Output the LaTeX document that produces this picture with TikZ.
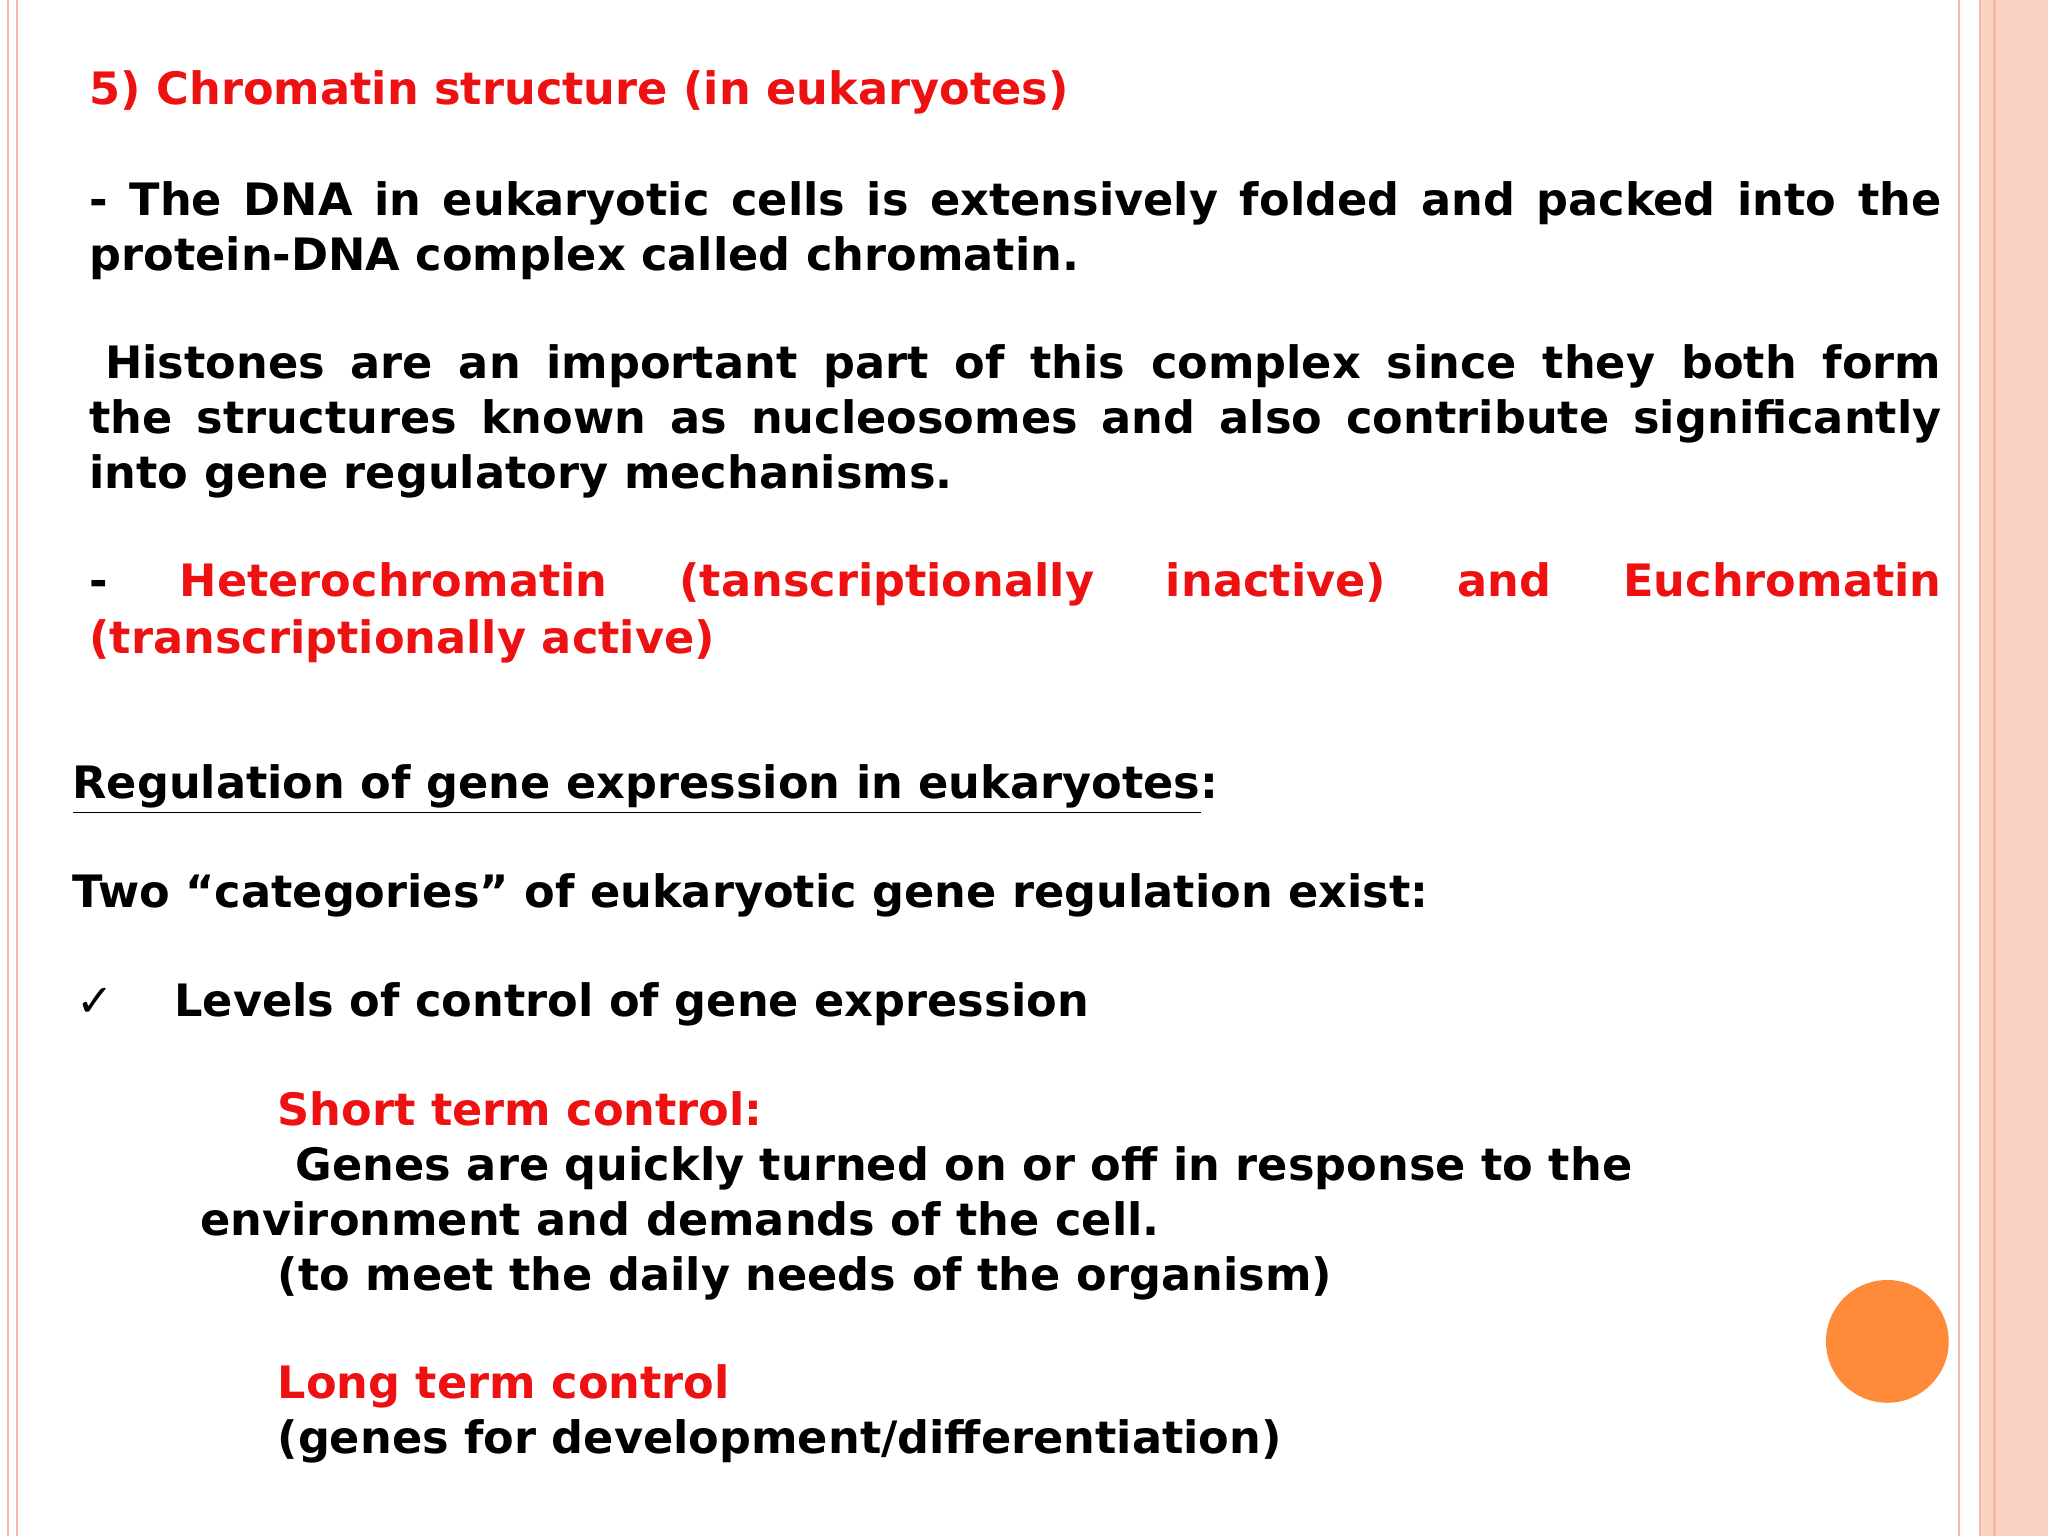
\documentclass[tikz,border=0pt]{standalone}
\usepackage{fontspec}
\setmainfont{DejaVu Sans}
\definecolor{slidered}{HTML}{EE1111}
\definecolor{framepink}{HTML}{F6B9A6}
\definecolor{bandpink}{HTML}{FBD3C2}
\definecolor{dotorange}{HTML}{FF8B3A}
\newcommand{\bodyfont}{\fontsize{12.7}{15.6}\selectfont\bfseries}
\newcommand{\jline}[1]{\makebox[18.52cm][s]{#1}}
\tikzset{
  txt/.style={anchor=base west, inner sep=0pt, font=\bodyfont},
  redtxt/.style={txt, text=slidered},
  frame/.style={draw=framepink, line width=0.6pt}
}
\begin{document}
\begin{tikzpicture}[x=0.01306cm, y=-0.01306cm]
  \useasboundingbox[fill=white] (0,0) rectangle (1568,1176);
  % slide frame
  \draw[frame] (6,0) -- (6,1176);
  \draw[frame] (13,0) -- (13,1176);
  \draw[frame] (1500,0) -- (1500,1176);
  \fill[bandpink] (1516,0) rectangle (1568,1176);
  \draw[frame] (1516,0) -- (1516,1176);
  \draw[frame] (1527,0) -- (1527,1176);
  \fill[dotorange] (1445,1027) circle (47);
  % chromatin text
  \node[redtxt] (title) at (68,80) {5) Chromatin structure (in eukaryotes)};
  \node[txt] (dnaA) at (68,165) {\jline{- The DNA in eukaryotic cells is extensively folded and packed into the}};
  \node[txt] (dnaB) at (68,207) {protein-DNA complex called chromatin.};
  \node[txt] (hisA) at (80,290) {\makebox[18.36cm][s]{Histones are an important part of this complex since they both form}};
  \node[txt] (hisB) at (68,332) {\jline{the structures known as nucleosomes and also contribute significantly}};
  \node[txt] (hisC) at (68,374) {into gene regulatory mechanisms.};
  \node[txt] (hetA) at (68,457) {\jline{- \textcolor{slidered}{Heterochromatin (tanscriptionally inactive) and Euchromatin}}};
  \node[redtxt] (hetB) at (68,500) {(transcriptionally active)};
  % regulation text
  \node[txt] (reg) at (55,611) {\underline{Regulation of gene expression in eukaryotes}:};
  \node[txt] (two) at (55,695) {Two “categories” of eukaryotic gene regulation exist:};
  \node[txt] (check) at (58,778) {✓};
  \node[txt] (levels) at (133,778) {Levels of control of gene expression};
  \node[redtxt] (short) at (212,862) {Short term control:};
  \node[txt] (genesA) at (226,904) {Genes are quickly turned on or off in response to the};
  \node[txt] (genesB) at (153,946) {environment and demands of the cell.};
  \node[txt] (daily) at (212,988) {(to meet the daily needs of the organism)};
  \node[redtxt] (long) at (212,1071) {Long term control};
  \node[txt] (devel) at (212,1113) {(genes for development/differentiation)};
\end{tikzpicture}
\end{document}
